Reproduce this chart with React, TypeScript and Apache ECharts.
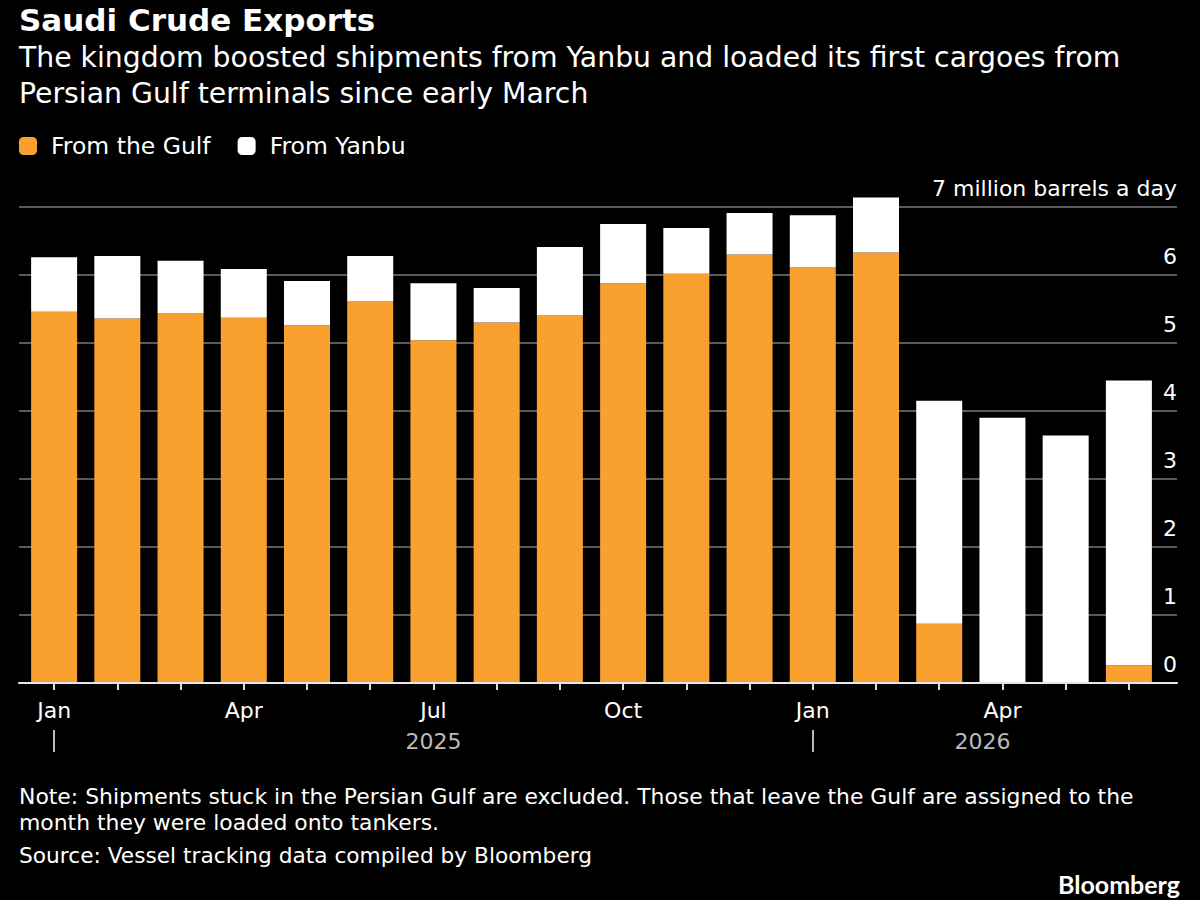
import React, { useEffect, useRef } from "react";
import * as echarts from "echarts";

// Monthly crude exports, million barrels a day
const months = ["Jan", "Feb", "Mar", "Apr", "May", "Jun", "Jul", "Aug", "Sep", "Oct", "Nov", "Dec", "Jan", "Feb", "Mar", "Apr", "May", "Jun"];
const fromGulf = [5.46, 5.36, 5.44, 5.37, 5.26, 5.61, 5.04, 5.3, 5.41, 5.88, 6.02, 6.3, 6.11, 6.33, 0.87, 0, 0, 0.26];
const fromYanbu = [0.8, 0.92, 0.77, 0.72, 0.65, 0.67, 0.84, 0.51, 1.0, 0.87, 0.67, 0.61, 0.77, 0.81, 3.28, 3.9, 3.64, 4.19];
const monthTickLabels = ["Jan", "Apr", "Jul", "Oct"];
const yearStartIndex = [0, 12];
const yearLabelIndex: Record<number, string> = { 6: "2025", 15: "2026" };
const yTicks = [0, 1, 2, 3, 4, 5, 6, 7];

const FONT = "'DejaVu Sans', sans-serif";
const ORANGE = "#F9A12F";

export default function App() {
  const ref = useRef<HTMLDivElement>(null);

  useEffect(() => {
    if (!ref.current) return;
    const chart = echarts.init(ref.current, null, { renderer: "svg" });
    const top = 207;
    const bottom = 900 - 683;

    chart.setOption({
      animation: false,
      backgroundColor: "#000",
      textStyle: { fontFamily: FONT },
      title: [
        {
          text: "Saudi Crude Exports",
          left: 19,
          top: 2,
          padding: 0,
          textStyle: { color: "#fff", fontSize: 31, fontWeight: "bold", fontFamily: FONT, lineHeight: 36 },
        },
        {
          text: "The kingdom boosted shipments from Yanbu and loaded its first cargoes from\nPersian Gulf terminals since early March",
          left: 19,
          top: 39,
          padding: 0,
          textStyle: { color: "#fff", fontSize: 28.3, fontWeight: "normal", fontFamily: FONT, lineHeight: 36 },
        },
        {
          text: "Note: Shipments stuck in the Persian Gulf are excluded. Those that leave the Gulf are assigned to the\nmonth they were loaded onto tankers.",
          left: 19,
          top: 783,
          padding: 0,
          textStyle: { color: "#fff", fontSize: 21.9, fontWeight: "normal", fontFamily: FONT, lineHeight: 26 },
        },
        {
          text: "Source: Vessel tracking data compiled by Bloomberg",
          left: 19,
          top: 842,
          padding: 0,
          textStyle: { color: "#fff", fontSize: 21.7, fontWeight: "normal", fontFamily: FONT, lineHeight: 26 },
        },
        {
          text: "Bloomberg",
          right: 20,
          top: 870,
          padding: 0,
          textStyle: { color: "#fff", fontSize: 25, fontWeight: "bold", fontFamily: "Lato, 'Open Sans', sans-serif", lineHeight: 28 },
        },
      ],
      legend: {
        left: 19,
        top: 134,
        padding: 0,
        itemWidth: 18,
        itemHeight: 18,
        itemGap: 27,
        icon: "roundRect",
        textStyle: { color: "#fff", fontSize: 23.5, fontFamily: FONT, padding: [0, 0, 0, 9] },
        data: ["From the Gulf", "From Yanbu"],
      },
      grid: [
        { left: 22.5, right: 39.5, top, bottom },
        { left: 19, right: 23, top, bottom },
      ],
      xAxis: [
        {
          type: "category",
          gridIndex: 0,
          data: months,
          axisLine: { show: false },
          axisTick: { show: true, alignWithLabel: true, interval: 0, length: 7, lineStyle: { color: "#ddd", width: 2 } },
          axisLabel: {
            color: "#fff",
            fontSize: 22,
            fontFamily: FONT,
            margin: 16,
            interval: (_i: number, v: string) => monthTickLabels.includes(v),
          },
        },
        {
          type: "category",
          gridIndex: 0,
          data: months,
          position: "bottom",
          offset: 47,
          axisLine: { show: false },
          axisTick: {
            show: true,
            alignWithLabel: true,
            interval: (i: number) => yearStartIndex.includes(i),
            length: 22,
            lineStyle: { color: "#bbb", width: 2 },
          },
          axisLabel: {
            color: "#bbb",
            fontSize: 22,
            fontFamily: FONT,
            margin: 0,
            interval: (i: number) => yearLabelIndex[i] !== undefined,
            formatter: (_v: string, i: number) => (i === 15 ? `{shift|${yearLabelIndex[i]}}` : yearLabelIndex[i] ?? ""),
            rich: { shift: { color: "#bbb", fontSize: 22, fontFamily: FONT, padding: [0, 40, 0, 0] } },
          },
        },
        {
          type: "value",
          gridIndex: 1,
          min: 0,
          max: 1,
          z: 10,
          axisLine: { show: true, onZero: false, lineStyle: { color: "#e6e6e6", width: 2 } },
          axisTick: { show: false },
          axisLabel: { show: false },
          splitLine: { show: false },
        },
      ],
      yAxis: [
        {
          type: "value",
          gridIndex: 0,
          min: 0,
          max: 7,
          interval: 1,
          show: false,
          splitLine: { show: false },
        },
        {
          type: "value",
          gridIndex: 1,
          position: "right",
          min: yTicks[0],
          max: yTicks[yTicks.length - 1],
          interval: 1,
          axisLine: { show: false },
          axisTick: { show: false },
          splitLine: { show: true, lineStyle: { color: "#5a5a5a", width: 2 } },
          axisLabel: {
            inside: true,
            margin: 0,
            color: "#fff",
            fontSize: 22,
            fontFamily: FONT,
            verticalAlign: "bottom",
            padding: [0, 0, 8, 0],
            formatter: (v: number) => (v === 7 ? "7 million barrels a day" : String(v)),
          },
        },
      ],
      series: [
        {
          name: "From the Gulf",
          type: "bar",
          stack: "total",
          xAxisIndex: 0,
          yAxisIndex: 0,
          barWidth: 46,
          clip: false,
          itemStyle: { color: ORANGE },
          data: fromGulf,
        },
        {
          name: "From Yanbu",
          type: "bar",
          stack: "total",
          xAxisIndex: 0,
          yAxisIndex: 0,
          barWidth: 46,
          clip: false,
          itemStyle: { color: "#ffffff" },
          data: fromYanbu,
        },
      ],
    });

    return () => chart.dispose();
  }, []);

  return (
    <div
      ref={ref}
      style={{ position: "absolute", left: 0, top: 0, width: 1200, height: 900, background: "#000" }}
    />
  );
}
